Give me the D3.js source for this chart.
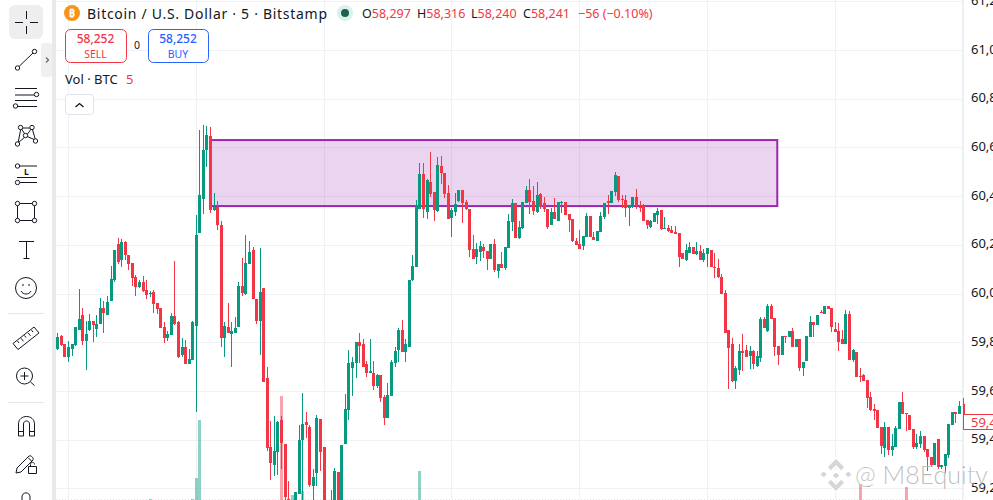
<!DOCTYPE html>
<html>
<head>
<meta charset="utf-8">
<script src="https://cdnjs.cloudflare.com/ajax/libs/d3/7.8.5/d3.min.js"></script>
<style>
body { margin: 0; background: #fff; overflow: hidden; }
svg { display: block; }
text { font-family: "Noto Sans", "Open Sans", sans-serif; }
</style>
</head>
<body>
<div id="chart"></div>
<script>
// candles
const opens = [
59772,59826,59793,59739,59772,59788,59850,59912,59805,59850,
59887,59854,59875,59940,59912,59969,60056,60204,60138,60212,
60158,60125,60068,60027,60048,60015,59998,60007,59961,59940,
59862,59817,59830,59908,59883,59748,59780,59710,59727,59866,
60248,60388,60589,60647,60343,60355,60281,59817,59862,59834,
59838,59862,60031,59998,60121,60179,59978,59887,60023,59653,
59370,59296,59350,59481,59383,59157,59080,59111,59177,59399,
59473,59452,59210,59263,59485,59370,59085,59115,59111,59268,
59103,59383,59522,59694,59715,59801,59793,59710,59674,59674,
59620,59666,59575,59489,59579,59715,59768,59850,59760,59780,
60056,60109,60347,60491,60335,60458,60417,60339,60523,60495,
60413,60310,60335,60380,60425,60376,60347,60183,60150,60171,
60191,60175,60142,60204,60093,60121,60105,60187,60294,60372,
60228,60269,60372,60425,60380,60335,60409,60372,60347,60281,
60335,60298,60372,60376,60326,60306,60216,60204,60195,60232,
60318,60232,60216,60253,60314,60380,60372,60417,60482,60388,
60384,60351,60355,60396,60359,60359,60302,60273,60294,60322,
60343,60265,60269,60261,60253,60249,60167,60138,60167,60191,
60163,60175,60138,60163,60179,60109,60105,60068,60002,59850,
59793,59641,59686,59764,59768,59743,59764,59702,59735,59895,
59846,59949,59899,59784,59747,59825,59821,59846,59780,59813,
59694,59723,59821,59883,59871,59924,59916,59949,59940,59854,
59846,59813,59793,59916,59727,59760,59661,59666,59645,59575,
59526,59522,59452,59366,59452,59358,59370,59444,59555,59510,
59502,59444,59370,59383,59416,59362,59329,59296,59403,59288,
59292,59337,59461,59514,59506,59547];
const highs = [
59838,59830,59793,59805,59793,59862,60019,59940,59887,59916,
59887,59912,59982,59969,59990,60113,60179,60228,60224,60216,
60158,60125,60076,60056,60072,60056,60011,60015,59961,59940,
59883,59846,59920,60134,59887,59817,59809,59772,59887,60322,
60671,60692,60688,60684,60413,60380,60298,59883,59961,59883,
59903,60048,60146,60240,60216,60191,59978,60187,60023,59698,
59477,59498,59477,59498,59383,59231,59140,59186,59461,59592,
59514,59461,59280,59502,59485,59370,59120,59194,59284,59268,
59378,59588,59768,59739,59801,59838,59813,59723,59813,59723,
59670,59666,59583,59633,59727,59780,59858,59891,59813,60056,
60158,60384,60536,60536,60470,60581,60417,60560,60564,60495,
60446,60351,60413,60425,60425,60384,60347,60240,60208,60216,
60204,60175,60204,60224,60121,60171,60191,60326,60388,60372,
60298,60376,60441,60470,60441,60458,60413,60396,60347,60351,
60392,60376,60380,60376,60326,60306,60228,60261,60236,60331,
60318,60253,60257,60335,60372,60405,60421,60499,60482,60405,
60405,60364,60396,60429,60380,60368,60302,60302,60331,60351,
60343,60314,60281,60277,60277,60249,60167,60204,60212,60191,
60212,60199,60183,60187,60179,60167,60142,60080,60015,59850,
59817,59702,59793,59834,59788,59784,59768,59764,59903,59903,
59957,59957,59899,59784,59825,59825,59846,59858,59813,59813,
59719,59825,59908,59883,59912,59932,59949,59949,59940,59883,
59879,59850,59932,59928,59772,59760,59694,59670,59645,59596,
59547,59522,59452,59473,59452,59424,59457,59555,59596,59510,
59502,59444,59424,59436,59416,59362,59329,59387,59403,59296,
59342,59465,59514,59514,59559,59571];
const lows = [
59768,59784,59739,59719,59743,59784,59850,59788,59686,59846,
59801,59821,59875,59838,59912,59969,60048,60121,60109,60138,
60097,60031,59990,60023,60007,59978,59986,59920,59916,59858,
59797,59805,59830,59871,59735,59739,59710,59710,59727,59513,
60248,60326,60519,60331,60339,60261,59780,59739,59838,59698,
59838,59862,59990,59994,60121,59978,59875,59747,59637,59354,
59235,59251,59255,59280,59153,59070,59060,59095,59177,59111,
59407,59206,59132,59210,59272,59090,59060,59100,59111,59111,
59103,59383,59481,59579,59653,59715,59698,59657,59674,59604,
59612,59555,59461,59489,59579,59698,59719,59760,59719,59780,
60052,60109,60347,60310,60306,60396,60298,60335,60450,60392,
60306,60232,60318,60376,60290,60343,60150,60142,60121,60134,
60146,60097,60142,60089,60064,60105,60097,60187,60257,60228,
60224,60265,60372,60326,60322,60331,60347,60335,60265,60281,
60306,60298,60331,60322,60253,60212,60199,60183,60179,60232,
60232,60220,60216,60253,60306,60326,60372,60400,60376,60351,
60314,60277,60351,60347,60335,60298,60265,60269,60294,60285,
60261,60265,60253,60249,60245,60109,60142,60134,60167,60163,
60158,60138,60130,60109,60109,60064,60064,59998,59838,59608,
59637,59608,59666,59682,59739,59690,59690,59698,59719,59858,
59842,59895,59743,59707,59747,59797,59821,59780,59780,59682,
59661,59723,59821,59821,59871,59920,59916,59936,59842,59842,
59764,59793,59793,59727,59719,59657,59637,59641,59530,59518,
59481,59448,59341,59329,59337,59333,59370,59444,59506,59436,
59440,59362,59362,59366,59350,59272,59288,59296,59280,59280,
59263,59325,59461,59469,59506,59465];
const closes = [
59821,59788,59739,59780,59793,59862,59895,59805,59834,59887,
59871,59875,59940,59920,59965,60060,60179,60130,60212,60158,
60121,60064,60027,60048,60011,59994,60002,59957,59936,59858,
59817,59834,59908,59875,59739,59780,59710,59731,59883,60240,
60405,60589,60651,60343,60355,60281,59817,59866,59838,59846,
59858,60031,60002,60125,60171,59978,59887,60007,59637,59366,
59304,59354,59473,59387,59165,59103,59125,59186,59399,59465,
59461,59214,59247,59489,59350,59090,59110,59140,59272,59111,
59378,59526,59715,59719,59801,59784,59698,59674,59682,59620,
59666,59571,59489,59583,59719,59764,59850,59760,59793,60056,
60113,60359,60491,60347,60466,60409,60343,60527,60495,60409,
60306,60343,60368,60425,60372,60347,60179,60142,60183,60195,
60175,60142,60204,60097,60121,60105,60191,60298,60372,60228,
60273,60376,60425,60376,60339,60405,60355,60347,60273,60335,
60306,60376,60376,60322,60302,60216,60199,60183,60236,60318,
60232,60220,60257,60318,60372,60372,60421,60487,60384,60384,
60351,60364,60396,60359,60351,60298,60281,60298,60331,60339,
60265,60269,60257,60249,60245,60150,60142,60179,60191,60163,
60175,60138,60167,60187,60109,60105,60068,59998,59838,59776,
59641,59694,59764,59756,59739,59764,59710,59743,59895,59858,
59949,59895,59780,59747,59825,59821,59846,59780,59813,59694,
59719,59825,59883,59871,59912,59920,59949,59936,59862,59842,
59801,59793,59916,59727,59768,59657,59657,59641,59571,59522,
59518,59448,59374,59452,59358,59374,59448,59555,59506,59506,
59440,59370,59387,59416,59358,59329,59296,59387,59288,59296,
59342,59465,59514,59506,59539,59473];

// only the volume bars tall enough to reach into the view
const volIndex = [26, 38, 39, 40, 63, 66, 69, 102, 226, 239];
const volValues = [11, 11, 32, 90, 114, 15, 19, 39, 26, 23];

const priceTicks = [59200, 59400, 59600, 59800, 60000, 60200, 60400, 60600, 60800, 61000, 61200];
const timeGrid = [3, 39, 75, 111, 147, 183, 219, 255];
const zone = { from: 43, to: 202.8, top: 60630, bottom: 60359 };
const lastPrice = 59473;
const ohlcLabels = ["O", "H", "L", "C"];
const ohlcValues = ["58,297", "58,316", "58,240", "58,241"];

const width = 993, height = 500;
const green = "#089981", red = "#f23645";

const svg = d3.select("#chart").append("svg")
    .attr("width", width)
    .attr("height", height);

let xScale = d3.scaleLinear().domain([0, 255]).range([57.3, 962.6]);
let yScale = d3.scaleLinear().domain([59200, 61200]).range([488.4, 1.2]);
let volScale = d3.scaleLinear().domain([0, 100]).range([510, 410]);
let px = v => Math.round(v);

// grid
let gridColor = "#f0f1f4";
svg.append("g").selectAll("line").data(priceTicks).join("line")
    .attr("x1", 56).attr("x2", 962)
    .attr("y1", d => px(yScale(d)) + 0.5).attr("y2", d => px(yScale(d)) + 0.5)
    .attr("stroke", gridColor);
svg.append("g").selectAll("line").data(timeGrid).join("line")
    .attr("x1", d => px(xScale(d)) + 0.5).attr("x2", d => px(xScale(d)) + 0.5)
    .attr("y1", 0).attr("y2", 499)
    .attr("stroke", gridColor);
svg.append("line").attr("x1", 56).attr("x2", 962).attr("y1", 499.5).attr("y2", 499.5)
    .attr("stroke", "#e4e4e4").attr("stroke-dasharray", "1,2");

// resistance box goes under the candles
svg.append("rect")
    .attr("x", xScale(zone.from)).attr("y", yScale(zone.top))
    .attr("width", xScale(zone.to) - xScale(zone.from))
    .attr("height", yScale(zone.bottom) - yScale(zone.top))
    .attr("fill", "rgba(156,39,176,0.2)")
    .attr("stroke", "#9c27b0").attr("stroke-width", 2);

// volume
svg.append("g").selectAll("rect").data(volIndex).join("rect")
    .attr("x", d => px(xScale(d)) - 1)
    .attr("y", (d, i) => volScale(volValues[i]))
    .attr("width", 3)
    .attr("height", (d, i) => volScale(0) - volScale(volValues[i]))
    .attr("fill", d => closes[d] >= opens[d] ? "rgba(8,153,129,0.45)" : "rgba(242,54,69,0.45)");

// candles, snapped to whole pixels so they stay crisp
let candle = svg.append("g").attr("shape-rendering", "crispEdges")
    .selectAll("g").data(d3.range(opens.length)).join("g")
    .attr("fill", d => closes[d] >= opens[d] ? green : red);
candle.append("rect")
    .attr("x", d => px(xScale(d)))
    .attr("y", d => px(yScale(highs[d])))
    .attr("width", 1)
    .attr("height", d => px(yScale(lows[d])) - px(yScale(highs[d])));
candle.append("rect")
    .attr("x", d => px(xScale(d)) - 1)
    .attr("y", d => px(yScale(Math.max(opens[d], closes[d]))))
    .attr("width", 3)
    .attr("height", d => Math.max(1, px(yScale(Math.min(opens[d], closes[d]))) - px(yScale(Math.max(opens[d], closes[d])))));

// price axis, labels run off the window like the original
let priceAxis = d3.axisRight(yScale).tickValues(priceTicks).tickFormat(d3.format(",")).tickSize(0).tickPadding(0);
svg.append("g")
    .attr("transform", "translate(971,-1)")
    .call(priceAxis)
    .call(g => g.select(".domain").remove())
    .call(g => g.selectAll("text").attr("font-size", 13).attr("fill", "#131722")
        .style("font-family", '"Noto Sans", sans-serif'));
svg.append("line").attr("x1", 962.5).attr("x2", 962.5).attr("y1", 0).attr("y2", 500).attr("stroke", "#eceef2");

svg.append("rect")
    .attr("x", 963.5).attr("y", px(yScale(lastPrice)) - 7.5)
    .attr("width", 40).attr("height", 15)
    .attr("fill", "#fff").attr("stroke", red);
svg.append("text")
    .attr("x", 971).attr("y", px(yScale(lastPrice)) + 4.5)
    .attr("font-size", 13).attr("fill", red)
    .text(d3.format(",")(lastPrice));

// legend
svg.append("circle").attr("cx", 72).attr("cy", 13).attr("r", 8).attr("fill", "#f7931a");
svg.append("text").attr("x", 72).attr("y", 17).attr("text-anchor", "middle")
    .attr("font-size", 11).attr("font-weight", 700).attr("fill", "#fff").text("₿");
svg.append("text").attr("x", 87).attr("y", 18.5)
    .attr("font-size", 14).attr("fill", "#131722")
    .attr("textLength", 240).attr("lengthAdjust", "spacing")
    .text("Bitcoin / U.S. Dollar · 5 · Bitstamp");
svg.append("circle").attr("cx", 345).attr("cy", 13).attr("r", 8).attr("fill", "#dcf1ec");
svg.append("circle").attr("cx", 345).attr("cy", 13).attr("r", 4).attr("fill", "#1c5f55");

let ohlcX = [362, 417, 471, 523];
ohlcLabels.forEach((l, i) => {
    let t = svg.append("text").attr("x", ohlcX[i]).attr("y", 18).attr("font-size", 12.5);
    t.append("tspan").attr("fill", "#131722").text(l);
    t.append("tspan").attr("fill", red).text(ohlcValues[i]);
});
svg.append("text").attr("x", 578).attr("y", 18).attr("font-size", 12.5).attr("fill", red).text("−56 (−0.10%)");

// sell / buy
let tradeBox = (x, w, color, price, label) => {
    svg.append("rect").attr("x", x + 0.5).attr("y", 29.5).attr("width", w).attr("height", 33).attr("rx", 5)
        .attr("fill", "#fff").attr("stroke", color);
    svg.append("text").attr("x", x + w / 2).attr("y", 43).attr("text-anchor", "middle")
        .attr("font-size", 12).attr("font-weight", 500).attr("fill", color).text(price);
    svg.append("text").attr("x", x + w / 2).attr("y", 57.5).attr("text-anchor", "middle")
        .attr("font-size", 10.5).attr("fill", color).text(label);
};
tradeBox(65, 61, red, "58,252", "SELL");
tradeBox(148, 60, "#2962ff", "58,252", "BUY");
svg.append("text").attr("x", 137).attr("y", 49).attr("text-anchor", "middle").attr("font-size", 10.5).attr("fill", "#131722").text("0");

let volLabel = svg.append("text").attr("x", 65).attr("y", 84).attr("font-size", 13).attr("fill", "#131722");
volLabel.append("tspan").text("Vol · BTC");
volLabel.append("tspan").attr("x", 126).attr("fill", red).text("5");

svg.append("rect").attr("x", 65.5).attr("y", 94.5).attr("width", 28).attr("height", 20).attr("rx", 3)
    .attr("fill", "#fff").attr("stroke", "#e0e3eb");
svg.append("path").attr("d", "M75.5 107l4-3.5 4 3.5").attr("fill", "none").attr("stroke", "#131722").attr("stroke-width", 1.3);

// toolbar
svg.append("rect").attr("x", 0).attr("y", 0).attr("width", 52).attr("height", 500).attr("fill", "#fff");
svg.append("rect").attr("x", 52).attr("y", 0).attr("width", 4).attr("height", 500).attr("fill", "#e9e9ea");
svg.append("rect").attr("x", 9).attr("y", 5).attr("width", 34).attr("height", 34).attr("rx", 6).attr("fill", "#eeeeee");
svg.append("rect").attr("x", 41).attr("y", 43).attr("width", 11).attr("height", 34).attr("rx", 3).attr("fill", "#f0f0f0");
svg.append("path").attr("d", "M46 57.5l2.5 2.5-2.5 2.5").attr("fill", "none").attr("stroke", "#666").attr("stroke-width", 1.2);

let tools = svg.append("g").attr("fill", "none").attr("stroke", "#131722").attr("stroke-width", 1);
let dot = (x, y) => tools.append("circle").attr("cx", x).attr("cy", y).attr("r", 2.2).attr("fill", "#fff");
let draw = d => tools.append("path").attr("d", d);

draw("M15 22.5h8M30 22.5h8M26.5 11v8M26.5 26v8");
draw("M19 66.5L33 53"); dot(17.5, 68); dot(34.5, 51.5);
draw("M15 88.5h22M15 95h19M15 100.5h22M18 106.5h19"); dot(36.5, 94.5); dot(15.5, 106);
draw("M18 143L21 128L26 136L32 128L35.5 140M21 128L32 128M18 143L26 136L35.5 140");
dot(17.5, 144); dot(20.5, 127.5); dot(32, 127.5); dot(25.5, 135.5); dot(35.5, 141);
draw("M19.5 166h17.5M17 177.5h20M19.5 182.5h17.5"); dot(17.5, 166); dot(17.5, 182.5);
svg.append("text").attr("x", 26.5).attr("y", 175).attr("text-anchor", "middle").attr("font-size", 8.5).attr("font-weight", 700).attr("fill", "#131722").text("L");
draw("M17.5 203.5h17v17h-17z"); dot(17.5, 203.5); dot(34.5, 203.5); dot(17.5, 220.5); dot(34.5, 220.5);
draw("M19 241.5h15M26.5 241.5v17M23.5 258.5h6");
tools.append("circle").attr("cx", 26).attr("cy", 288).attr("r", 10.5);
draw("M21 291c2 4 8 4 10 0M23 284v2M29 284v2");
draw("M8 313.5h36M8 402.5h36").attr("stroke", "#e6e6e6");
draw("M14.5 345l21-16.5 5 6-21 16.5z M19 342.5l1.5 2M22.5 339.8l2.5 3M26 337l1.5 2M29.5 334.3l2.5 3M33 331.6l1.5 2").attr("transform", "translate(-1.5,-1.5)");
tools.append("circle").attr("cx", 24.5).attr("cy", 376).attr("r", 8);
draw("M20.5 376h8M24.5 372v8M30.5 382l4 3.5");
draw("M18.5 436v-12c0-10 16-10 16 0v12h-5v-12c0-4-6-4-6 0v12zM18.5 431.5h5M29.5 431.5h5");
draw("M16 473l1-5 12-12c2-1 5 2 4 4l-12 12zM28 457.5l3.5 3.5");
draw("M28.5 466.5h8v7h-8zM30.5 466.5v-2c0-3 4-3 4 0");
draw("M22 500v-3c0-5.5 8-5.5 8 0v3");

// watermark
let mark = svg.append("g");
mark.append("path")
    .attr("transform", "translate(836,475) scale(1.3) translate(-835.5,-474)")
    .attr("d", "M835.5 461l7 7-3 3-4-4-4 4-3-3zM826 470.5l3 3-3 3-3-3zM845 470.5l3 3-3 3-3-3zM835.5 471l3 3.5-3 3-3-3zM835.5 487l-7-7 3-3 4 4 4-4 3 3z")
    .attr("fill", "#d6d6d6").attr("stroke", "#fff").attr("stroke-width", 1);
mark.append("text").attr("x", 855).attr("y", 484)
    .attr("font-size", 25).attr("font-weight", 300).attr("fill", "rgba(120,120,120,0.65)")
    .attr("stroke", "rgba(255,255,255,0.5)").attr("stroke-width", 0.5)
    .style("font-family", "Lato, sans-serif")
    .text("@ M8Equity");
</script>
</body>
</html>
